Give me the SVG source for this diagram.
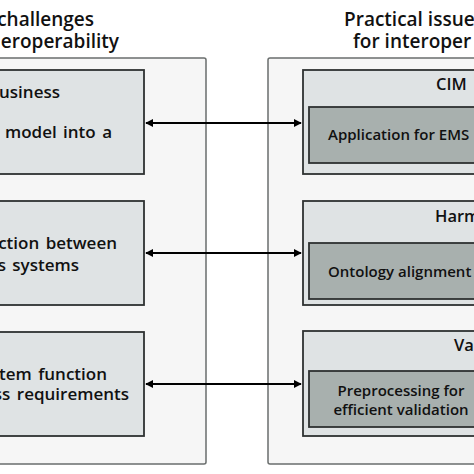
<svg xmlns="http://www.w3.org/2000/svg" width="474" height="474" viewBox="0 0 474 474">
<defs>
<style>
.panel{fill:#f6f6f6;stroke:#6a6e6d;stroke-width:1.5}
.box{fill:#dfe3e4;stroke:#2e3131;stroke-width:1.8}
.dark{fill:#a8b0ae;stroke:#2e3131;stroke-width:1.8}
.t{font-family:"Open Sans","Noto Sans",sans-serif;font-weight:600;fill:#111}
.title{font-size:19px}
.lbl{font-size:15px}
.hdr{font-size:16.5px}
.lbl2{font-size:17px;word-spacing:2px}
.conn{stroke:#000;stroke-width:2;fill:none;marker-start:url(#ah);marker-end:url(#ah)}
</style>
<marker id="ah" viewBox="0 0 10 10" refX="9" refY="5" markerWidth="4" markerHeight="4" orient="auto-start-reverse" markerUnits="strokeWidth">
<path d="M0,0 L10,5 L0,10 Z" fill="#000"/>
</marker>
</defs>
<rect width="474" height="474" fill="#ffffff"/>
<g id="title-left">
<text class="t title" x="94" y="26" text-anchor="end">challenges</text>
<text class="t title" x="119" y="48" text-anchor="end">eroperability</text>
</g>
<g id="title-right">
<text class="t title" x="344" y="26">Practical issue</text>
<text class="t title" x="353" y="48">for interoper</text>
</g>
<g id="panel-left"><rect class="panel" x="-10" y="58" width="216" height="406" rx="2"/></g>
<g id="panel-right"><rect class="panel" x="268" y="58" width="220" height="406" rx="2"/></g>
<g id="left-1">
<rect class="box" x="-10" y="70" width="154" height="104"/>
<text class="t lbl2" x="60" y="98" text-anchor="end">usiness</text>
<text class="t lbl2" x="112" y="138" text-anchor="end">model into a</text>
</g>
<g id="left-2">
<rect class="box" x="-10" y="201" width="154" height="104"/>
<text class="t lbl2" x="117" y="249" text-anchor="end">ction between</text>
<text class="t lbl2" x="79" y="271" text-anchor="end">s systems</text>
</g>
<g id="left-3">
<rect class="box" x="-10" y="332" width="154" height="104"/>
<text class="t lbl2" x="107" y="380" text-anchor="end">tem function</text>
<text class="t lbl2" x="129" y="400" text-anchor="end">ss requirements</text>
</g>
<g id="right-1">
<rect class="box" x="303" y="70" width="190" height="104"/>
<text class="t hdr" x="436" y="90">CIM</text>
<rect class="dark" x="309" y="107" width="190" height="56"/>
<text class="t lbl" x="328" y="140" font-size="15.5">Application for EMS</text>
</g>
<g id="right-2">
<rect class="box" x="303" y="201" width="190" height="104"/>
<text class="t hdr" x="435" y="222">Harm</text>
<rect class="dark" x="309" y="243" width="190" height="56"/>
<text class="t lbl" x="328" y="277" font-size="15.5">Ontology alignment</text>
</g>
<g id="right-3">
<rect class="box" x="303" y="331" width="190" height="105"/>
<text class="t hdr" x="454" y="351">Va</text>
<rect class="dark" x="309" y="371" width="190" height="56"/>
<text class="t lbl" x="401" y="396" text-anchor="middle">Preprocessing for</text>
<text class="t lbl" x="401" y="415" text-anchor="middle">efficient validation</text>
</g>
<g id="connectors">
<line class="conn" x1="146" y1="123" x2="301" y2="123"/>
<line class="conn" x1="146" y1="253" x2="301" y2="253"/>
<line class="conn" x1="146" y1="384" x2="301" y2="384"/>
</g>
</svg>
